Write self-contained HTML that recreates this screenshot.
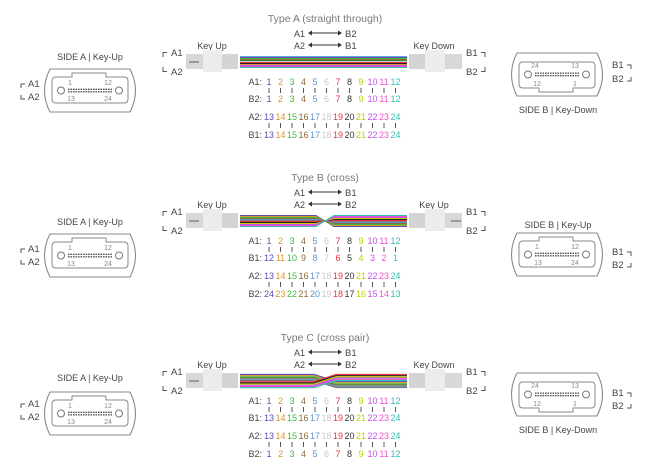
<!DOCTYPE html>
<html><head><meta charset="utf-8"><style>
html,body{margin:0;padding:0;background:#fff;}
svg{display:block;font-family:"Liberation Sans",sans-serif;}
.t{font-size:10.5px;fill:#7a7a7a;text-anchor:middle}
.s{font-size:9.5px;fill:#444}
.n{font-size:9px;text-anchor:middle}
.l{font-size:9px;fill:#444;text-anchor:end}
.p{font-size:7px;fill:#888;text-anchor:middle}
.k{font-size:9px;fill:#444;text-anchor:middle}
</style></head><body>
<svg width="650" height="476" viewBox="0 0 650 476" xmlns="http://www.w3.org/2000/svg">
<defs>
 <g id="conn">
  <path d="M8,0 H88 Q99,21.5 88,43 H8 Q-3,21.5 8,0Z" fill="#fff" stroke="#8a8a8a" stroke-width="1.1"/>
  <path d="M14,8 H30 V4 H64 V8 H82 Q86,8 86,12 V30 Q86,34 82,34 H14 Q10,34 10,30 V12 Q10,8 14,8Z" fill="#fff" stroke="#8a8a8a" stroke-width="1"/>
  <circle cx="19" cy="21.5" r="3.5" fill="#fff" stroke="#777"/>
  <circle cx="77" cy="21.5" r="3.5" fill="#fff" stroke="#777"/>
  <line x1="26" y1="20.3" x2="70" y2="20.3" stroke="#555" stroke-width="1.3" stroke-dasharray="1.6 0.9"/>
  <line x1="26" y1="22.8" x2="70" y2="22.8" stroke="#555" stroke-width="1.3" stroke-dasharray="1.6 0.9"/>
 </g>
 <g id="ferL">
  <rect x="186" y="54" width="17" height="15" fill="#d8d8d8"/>
  <rect x="203" y="50" width="19" height="22" fill="#ececec"/>
  <rect x="222" y="54" width="16" height="15" fill="#d4d4d4"/>
  <rect x="189" y="61" width="10" height="2" fill="#999"/>
 </g>
 <g id="ferR">
  <rect x="409" y="54" width="16" height="15" fill="#d4d4d4"/>
  <rect x="425" y="50" width="20" height="22" fill="#ececec"/>
  <rect x="445" y="54" width="17" height="15" fill="#d8d8d8"/>
 </g>
 <g id="brk">
  <text x="171" y="56" class="s" font-size="8.5">A1</text>
  <text x="171" y="75" class="s" font-size="8.5">A2</text>
  <path d="M163,57 V52.5 H167 M163,67 V71.5 H167" fill="none" stroke="#555"/>
  <text x="466" y="56" class="s" font-size="8.5">B1</text>
  <text x="466" y="75" class="s" font-size="8.5">B2</text>
  <path d="M481,52.5 H485 V57 M481,71.5 H485 V67" fill="none" stroke="#555"/>
 </g>
 <g id="arr">
  <line x1="310" y1="33" x2="340" y2="33" stroke="#333"/>
  <path d="M308,33 l4,-2.5 v5z M342,33 l-4,-2.5 v5z" fill="#333"/>
  <line x1="310" y1="45" x2="340" y2="45" stroke="#333"/>
  <path d="M308,45 l4,-2.5 v5z M342,45 l-4,-2.5 v5z" fill="#333"/>
 </g>
 <path id="pipes" d="M269,88v5M280.5,88v5M292,88v5M303.5,88v5M315,88v5M326.5,88v5M338,88v5M349.5,88v5M361,88v5M372.5,88v5M384,88v5M395.5,88v5 M269,123v5M280.5,123v5M292,123v5M303.5,123v5M315,123v5M326.5,123v5M338,123v5M349.5,123v5M361,123v5M372.5,123v5M384,123v5M395.5,123v5" stroke="#444" stroke-width="0.9"/>
</defs>

<use href="#conn" x="42" y="69"/>
<use href="#conn" x="42" y="234"/>
<use href="#conn" x="42" y="392"/>
<use href="#conn" transform="translate(509,96) scale(1,-1)"/>
<use href="#conn" x="509" y="233"/>
<use href="#conn" transform="translate(509,416) scale(1,-1)"/>

<g>
 <text x="90" y="60" class="k" font-size="10">SIDE A | Key-Up</text>
 <text x="90" y="225" class="k" font-size="10">SIDE A | Key-Up</text>
 <text x="90" y="381" class="k" font-size="10">SIDE A | Key-Up</text>
 <g class="p">
  <text x="70" y="85">1</text><text x="108" y="85">12</text><text x="71" y="101">13</text><text x="108" y="101">24</text>
  <text x="70" y="250">1</text><text x="108" y="250">12</text><text x="71" y="266">13</text><text x="108" y="266">24</text>
  <text x="70" y="408">1</text><text x="108" y="408">12</text><text x="71" y="424">13</text><text x="108" y="424">24</text>
  <text x="535" y="68">24</text><text x="575" y="68">13</text><text x="537" y="86">12</text><text x="575" y="86">1</text>
  <text x="537" y="249">1</text><text x="575" y="249">12</text><text x="538" y="265">13</text><text x="575" y="265">24</text>
  <text x="535" y="388">24</text><text x="575" y="388">13</text><text x="537" y="406">12</text><text x="575" y="406">1</text>
 </g>
 <g class="s" font-size="8.5">
  <text x="28" y="87">A1</text><text x="28" y="100">A2</text>
  <text x="28" y="252">A1</text><text x="28" y="265">A2</text>
  <text x="28" y="407">A1</text><text x="28" y="420">A2</text>
  <text x="612" y="68">B1</text><text x="612" y="82">B2</text>
  <text x="612" y="255">B1</text><text x="612" y="268">B2</text>
  <text x="612" y="396">B1</text><text x="612" y="409">B2</text>
 </g>
 <path d="M21,88 V84 H25 M21,95 V99 H25 M21,253 V249 H25 M21,260 V264 H25 M21,408 V404 H25 M21,415 V419 H25" fill="none" stroke="#555"/>
 <path d="M627,65 H631 V69 M627,81 H631 V77 M627,252 H631 V256 M627,267 H631 V263 M627,393 H631 V397 M627,408 H631 V404" fill="none" stroke="#555"/>
 <text x="558" y="113" class="k" font-size="10">SIDE B | Key-Down</text>
 <text x="558" y="228" class="k" font-size="10">SIDE B | Key-Up</text>
 <text x="558" y="433" class="k" font-size="10">SIDE B | Key-Down</text>
</g>

<g>
 <text x="325" y="22" class="t">Type A (straight through)</text>
 <use href="#arr"/>
 <text x="305" y="37" class="l" font-size="9.5">A1</text><text x="345" y="37" class="s">B2</text>
 <text x="305" y="49" class="l" font-size="9.5">A2</text><text x="345" y="49" class="s">B1</text>
 <text x="212" y="49" class="k">Key Up</text><text x="434" y="49" class="k">Key Down</text>
 <use href="#brk"/>
 <use href="#ferL"/><use href="#ferR"/>
 <g stroke-width="1.05">
  <line x1="240" y1="56.5" x2="407" y2="56.5" stroke="#6fa0e0"/>
  <line x1="240" y1="57.5" x2="407" y2="57.5" stroke="#5a4fb0"/>
  <line x1="240" y1="58.5" x2="407" y2="58.5" stroke="#3dbb3d"/>
  <line x1="240" y1="59.5" x2="407" y2="59.5" stroke="#8a6a3a"/>
  <line x1="240" y1="60.5" x2="407" y2="60.5" stroke="#2e8b2e"/>
  <line x1="240" y1="61.5" x2="407" y2="61.5" stroke="#c8c8c8"/>
  <line x1="240" y1="62.5" x2="407" y2="62.5" stroke="#f0303c"/>
  <line x1="240" y1="63.5" x2="407" y2="63.5" stroke="#222"/>
  <line x1="240" y1="64.5" x2="407" y2="64.5" stroke="#d9952f"/>
  <line x1="240" y1="65.5" x2="407" y2="65.5" stroke="#c050f0"/>
  <line x1="240" y1="66.5" x2="407" y2="66.5" stroke="#f050d0"/>
  <line x1="240" y1="67.5" x2="407" y2="67.5" stroke="#30bfb0"/>
 </g>
 <text x="262" y="85" class="l">A1:</text><text x="262" y="102" class="l">B2:</text>
 <text x="262" y="120" class="l">A2:</text><text x="262" y="138" class="l">B1:</text>
 <use href="#pipes"/>
 <text class="n" y="85"><tspan x="269" fill="#5a4fb0">1</tspan><tspan x="280.5" fill="#d9952f">2</tspan><tspan x="292" fill="#3dbb3d">3</tspan><tspan x="303.5" fill="#8a6a3a">4</tspan><tspan x="315" fill="#5f94cc">5</tspan><tspan x="326.5" fill="#c8c8c8">6</tspan><tspan x="338" fill="#f0303c">7</tspan><tspan x="349.5" fill="#333">8</tspan><tspan x="361" fill="#c5d000">9</tspan><tspan x="372.5" fill="#c050f0">10</tspan><tspan x="384" fill="#f050d0">11</tspan><tspan x="395.5" fill="#30bfb0">12</tspan></text>
 <text class="n" y="102"><tspan x="269" fill="#5a4fb0">1</tspan><tspan x="280.5" fill="#d9952f">2</tspan><tspan x="292" fill="#3dbb3d">3</tspan><tspan x="303.5" fill="#8a6a3a">4</tspan><tspan x="315" fill="#5f94cc">5</tspan><tspan x="326.5" fill="#c8c8c8">6</tspan><tspan x="338" fill="#f0303c">7</tspan><tspan x="349.5" fill="#333">8</tspan><tspan x="361" fill="#c5d000">9</tspan><tspan x="372.5" fill="#c050f0">10</tspan><tspan x="384" fill="#f050d0">11</tspan><tspan x="395.5" fill="#30bfb0">12</tspan></text>
 <text class="n" y="120"><tspan x="269" fill="#5a4fb0">13</tspan><tspan x="280.5" fill="#d9952f">14</tspan><tspan x="292" fill="#3dbb3d">15</tspan><tspan x="303.5" fill="#8a6a3a">16</tspan><tspan x="315" fill="#5f94cc">17</tspan><tspan x="326.5" fill="#c8c8c8">18</tspan><tspan x="338" fill="#f0303c">19</tspan><tspan x="349.5" fill="#333">20</tspan><tspan x="361" fill="#c5d000">21</tspan><tspan x="372.5" fill="#c050f0">22</tspan><tspan x="384" fill="#f050d0">23</tspan><tspan x="395.5" fill="#30bfb0">24</tspan></text>
 <text class="n" y="138"><tspan x="269" fill="#5a4fb0">13</tspan><tspan x="280.5" fill="#d9952f">14</tspan><tspan x="292" fill="#3dbb3d">15</tspan><tspan x="303.5" fill="#8a6a3a">16</tspan><tspan x="315" fill="#5f94cc">17</tspan><tspan x="326.5" fill="#c8c8c8">18</tspan><tspan x="338" fill="#f0303c">19</tspan><tspan x="349.5" fill="#333">20</tspan><tspan x="361" fill="#c5d000">21</tspan><tspan x="372.5" fill="#c050f0">22</tspan><tspan x="384" fill="#f050d0">23</tspan><tspan x="395.5" fill="#30bfb0">24</tspan></text>
</g>

<g transform="translate(0,159)">
 <text x="325" y="22" class="t">Type B (cross)</text>
 <use href="#arr"/>
 <text x="305" y="37" class="l" font-size="9.5">A1</text><text x="345" y="37" class="s">B1</text>
 <text x="305" y="49" class="l" font-size="9.5">A2</text><text x="345" y="49" class="s">B2</text>
 <text x="212" y="49" class="k">Key Up</text><text x="434" y="49" class="k">Key Up</text>
 <use href="#brk"/>
 <use href="#ferL"/><use href="#ferR"/>
 <rect x="451" y="61" width="10" height="2" fill="#999"/>
 <g stroke-width="1.1" fill="none">
  <path d="M240,56.5 H316 L334,67.5 H407" stroke="#5a4fb0"/>
  <path d="M240,57.5 H316 L334,66.5 H407" stroke="#d9952f"/>
  <path d="M240,58.5 H316 L334,65.5 H407" stroke="#3dbb3d"/>
  <path d="M240,59.5 H316 L334,64.5 H407" stroke="#8a6a3a"/>
  <path d="M240,60.5 H316 L334,63.5 H407" stroke="#5f94cc"/>
  <path d="M240,61.5 H316 L334,62.5 H407" stroke="#777"/>
  <path d="M240,62.5 H316 L334,61.5 H407" stroke="#f0303c"/>
  <path d="M240,63.5 H316 L334,60.5 H407" stroke="#222"/>
  <path d="M240,64.5 H316 L334,59.5 H407" stroke="#c5d000"/>
  <path d="M240,65.5 H316 L334,58.5 H407" stroke="#c050f0"/>
  <path d="M240,66.5 H316 L334,57.5 H407" stroke="#f050d0"/>
  <path d="M240,67.5 H316 L334,56.5 H407" stroke="#30bfb0"/>
 </g>
 <text x="262" y="85" class="l">A1:</text><text x="262" y="102" class="l">B1:</text>
 <text x="262" y="120" class="l">A2:</text><text x="262" y="138" class="l">B2:</text>
 <use href="#pipes"/>
 <text class="n" y="85"><tspan x="269" fill="#5a4fb0">1</tspan><tspan x="280.5" fill="#d9952f">2</tspan><tspan x="292" fill="#3dbb3d">3</tspan><tspan x="303.5" fill="#8a6a3a">4</tspan><tspan x="315" fill="#5f94cc">5</tspan><tspan x="326.5" fill="#c8c8c8">6</tspan><tspan x="338" fill="#f0303c">7</tspan><tspan x="349.5" fill="#333">8</tspan><tspan x="361" fill="#c5d000">9</tspan><tspan x="372.5" fill="#c050f0">10</tspan><tspan x="384" fill="#f050d0">11</tspan><tspan x="395.5" fill="#30bfb0">12</tspan></text>
 <text class="n" y="102"><tspan x="269" fill="#5a4fb0">12</tspan><tspan x="280.5" fill="#d9952f">11</tspan><tspan x="292" fill="#3dbb3d">10</tspan><tspan x="303.5" fill="#8a6a3a">9</tspan><tspan x="315" fill="#5f94cc">8</tspan><tspan x="326.5" fill="#c8c8c8">7</tspan><tspan x="338" fill="#f0303c">6</tspan><tspan x="349.5" fill="#333">5</tspan><tspan x="361" fill="#c5d000">4</tspan><tspan x="372.5" fill="#c050f0">3</tspan><tspan x="384" fill="#f050d0">2</tspan><tspan x="395.5" fill="#30bfb0">1</tspan></text>
 <text class="n" y="120"><tspan x="269" fill="#5a4fb0">13</tspan><tspan x="280.5" fill="#d9952f">14</tspan><tspan x="292" fill="#3dbb3d">15</tspan><tspan x="303.5" fill="#8a6a3a">16</tspan><tspan x="315" fill="#5f94cc">17</tspan><tspan x="326.5" fill="#c8c8c8">18</tspan><tspan x="338" fill="#f0303c">19</tspan><tspan x="349.5" fill="#333">20</tspan><tspan x="361" fill="#c5d000">21</tspan><tspan x="372.5" fill="#c050f0">22</tspan><tspan x="384" fill="#f050d0">23</tspan><tspan x="395.5" fill="#30bfb0">24</tspan></text>
 <text class="n" y="138"><tspan x="269" fill="#5a4fb0">24</tspan><tspan x="280.5" fill="#d9952f">23</tspan><tspan x="292" fill="#3dbb3d">22</tspan><tspan x="303.5" fill="#8a6a3a">21</tspan><tspan x="315" fill="#5f94cc">20</tspan><tspan x="326.5" fill="#c8c8c8">19</tspan><tspan x="338" fill="#f0303c">18</tspan><tspan x="349.5" fill="#333">17</tspan><tspan x="361" fill="#c5d000">16</tspan><tspan x="372.5" fill="#c050f0">15</tspan><tspan x="384" fill="#f050d0">14</tspan><tspan x="395.5" fill="#30bfb0">13</tspan></text>
</g>

<g transform="translate(0,319)">
 <text x="325" y="22" class="t">Type C (cross pair)</text>
 <use href="#arr"/>
 <text x="305" y="37" class="l" font-size="9.5">A1</text><text x="345" y="37" class="s">B1</text>
 <text x="305" y="49" class="l" font-size="9.5">A2</text><text x="345" y="49" class="s">B2</text>
 <text x="212" y="49" class="k">Key Up</text><text x="434" y="49" class="k">Key Down</text>
 <use href="#brk"/>
 <use href="#ferL"/><use href="#ferR"/>
 <g stroke-width="1.2" fill="none">
  <path d="M240,55.5 H314 L336,62.5 H407" stroke="#5a4fb0"/>
  <path d="M240,56.7 H314 L336,63.7 H407" stroke="#d9952f"/>
  <path d="M240,57.9 H314 L336,64.9 H407" stroke="#3dbb3d"/>
  <path d="M240,59.1 H314 L336,66.1 H407" stroke="#8a6a3a"/>
  <path d="M240,60.3 H314 L336,67.3 H407" stroke="#5f94cc"/>
  <path d="M240,61.5 H314 L336,68.5 H407" stroke="#777"/>
  <path d="M240,62.7 H314 L336,55.5 H407" stroke="#f0303c"/>
  <path d="M240,63.9 H314 L336,56.7 H407" stroke="#222"/>
  <path d="M240,65.1 H314 L336,57.9 H407" stroke="#c5d000"/>
  <path d="M240,66.3 H314 L336,59.1 H407" stroke="#c050f0"/>
  <path d="M240,67.5 H314 L336,60.3 H407" stroke="#f050d0"/>
  <path d="M240,68.7 H314 L336,61.5 H407" stroke="#30bfb0"/>
 </g>
 <text x="262" y="85" class="l">A1:</text><text x="262" y="102" class="l">B1:</text>
 <text x="262" y="120" class="l">A2:</text><text x="262" y="138" class="l">B2:</text>
 <use href="#pipes"/>
 <text class="n" y="85"><tspan x="269" fill="#5a4fb0">1</tspan><tspan x="280.5" fill="#d9952f">2</tspan><tspan x="292" fill="#3dbb3d">3</tspan><tspan x="303.5" fill="#8a6a3a">4</tspan><tspan x="315" fill="#5f94cc">5</tspan><tspan x="326.5" fill="#c8c8c8">6</tspan><tspan x="338" fill="#f0303c">7</tspan><tspan x="349.5" fill="#333">8</tspan><tspan x="361" fill="#c5d000">9</tspan><tspan x="372.5" fill="#c050f0">10</tspan><tspan x="384" fill="#f050d0">11</tspan><tspan x="395.5" fill="#30bfb0">12</tspan></text>
 <text class="n" y="102"><tspan x="269" fill="#5a4fb0">13</tspan><tspan x="280.5" fill="#d9952f">14</tspan><tspan x="292" fill="#3dbb3d">15</tspan><tspan x="303.5" fill="#8a6a3a">16</tspan><tspan x="315" fill="#5f94cc">17</tspan><tspan x="326.5" fill="#c8c8c8">18</tspan><tspan x="338" fill="#f0303c">19</tspan><tspan x="349.5" fill="#333">20</tspan><tspan x="361" fill="#c5d000">21</tspan><tspan x="372.5" fill="#c050f0">22</tspan><tspan x="384" fill="#f050d0">23</tspan><tspan x="395.5" fill="#30bfb0">24</tspan></text>
 <text class="n" y="120"><tspan x="269" fill="#5a4fb0">13</tspan><tspan x="280.5" fill="#d9952f">14</tspan><tspan x="292" fill="#3dbb3d">15</tspan><tspan x="303.5" fill="#8a6a3a">16</tspan><tspan x="315" fill="#5f94cc">17</tspan><tspan x="326.5" fill="#c8c8c8">18</tspan><tspan x="338" fill="#f0303c">19</tspan><tspan x="349.5" fill="#333">20</tspan><tspan x="361" fill="#c5d000">21</tspan><tspan x="372.5" fill="#c050f0">22</tspan><tspan x="384" fill="#f050d0">23</tspan><tspan x="395.5" fill="#30bfb0">24</tspan></text>
 <text class="n" y="138"><tspan x="269" fill="#5a4fb0">1</tspan><tspan x="280.5" fill="#d9952f">2</tspan><tspan x="292" fill="#3dbb3d">3</tspan><tspan x="303.5" fill="#8a6a3a">4</tspan><tspan x="315" fill="#5f94cc">5</tspan><tspan x="326.5" fill="#c8c8c8">6</tspan><tspan x="338" fill="#f0303c">7</tspan><tspan x="349.5" fill="#333">8</tspan><tspan x="361" fill="#c5d000">9</tspan><tspan x="372.5" fill="#c050f0">10</tspan><tspan x="384" fill="#f050d0">11</tspan><tspan x="395.5" fill="#30bfb0">12</tspan></text>
</g>
</svg>
</body></html>
